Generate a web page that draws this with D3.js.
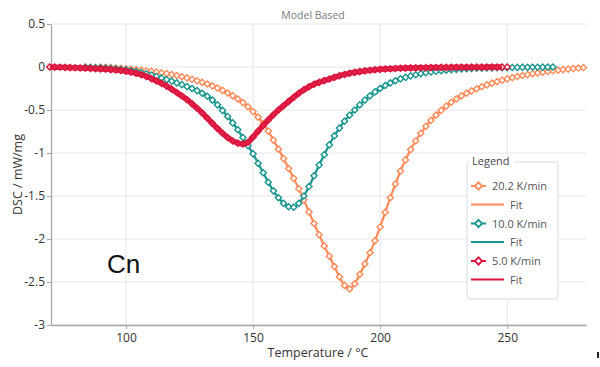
<!DOCTYPE html>
<html>
<head>
<meta charset="utf-8">
<script src="https://cdn.jsdelivr.net/npm/d3@7"></script>
<style>
body { margin: 0; background: #fff; }
text { font-family: "Open Sans", "Noto Sans", sans-serif; }
</style>
</head>
<body>
<svg id="chart" width="600" height="367"></svg>
<script>
var tempsFast = d3.range(90, 281, 2);   // 20.2 K/min
var dscFast = [
    0, -0.004, -0.008, -0.012, -0.016, -0.02, -0.025, -0.03, -0.036, -0.043,
    -0.05, -0.058, -0.067, -0.077, -0.088, -0.1, -0.113, -0.127, -0.143, -0.16,
    -0.178, -0.198, -0.22, -0.245, -0.272, -0.302, -0.335, -0.372, -0.414, -0.462,
    -0.518, -0.583, -0.658, -0.745, -0.85, -0.955, -1.065, -1.18, -1.295, -1.415,
    -1.545, -1.685, -1.82, -1.95, -2.08, -2.2, -2.32, -2.44, -2.54, -2.58,
    -2.52, -2.41, -2.29, -2.16, -2.02, -1.86, -1.69, -1.52, -1.36, -1.21,
    -1.08, -0.96, -0.86, -0.77, -0.69, -0.62, -0.56, -0.505, -0.455, -0.41,
    -0.37, -0.335, -0.305, -0.278, -0.253, -0.23, -0.208, -0.188, -0.17, -0.153,
    -0.138, -0.124, -0.111, -0.099, -0.088, -0.078, -0.069, -0.06, -0.052, -0.044,
    -0.037, -0.03, -0.024, -0.018, -0.012, -0.006
];

var tempsMid = d3.range(84, 269, 2);    // 10.0 K/min
var dscMid = [
    0, -0.003, -0.006, -0.009, -0.012, -0.016, -0.02, -0.026, -0.033, -0.042,
    -0.052, -0.064, -0.078, -0.094, -0.11, -0.128, -0.146, -0.165, -0.185, -0.205,
    -0.228, -0.25, -0.275, -0.305, -0.34, -0.385, -0.44, -0.505, -0.575, -0.65,
    -0.73, -0.82, -0.915, -1.01, -1.12, -1.23, -1.34, -1.44, -1.52, -1.585,
    -1.625, -1.63, -1.585, -1.5, -1.39, -1.265, -1.14, -1.02, -0.905, -0.8,
    -0.71, -0.63, -0.56, -0.5, -0.44, -0.385, -0.335, -0.29, -0.25, -0.215,
    -0.185, -0.16, -0.138, -0.12, -0.104, -0.09, -0.078, -0.067, -0.058, -0.05,
    -0.043, -0.037, -0.032, -0.027, -0.023, -0.02, -0.017, -0.015, -0.013, -0.011,
    -0.01, -0.009, -0.008, -0.007, -0.006, -0.005, -0.004, -0.004, -0.003, -0.003,
    -0.002, -0.001, 0
];

var tempsSlow = d3.range(70, 251, 2);   // 5.0 K/min
var dscSlow = [
    0, -0.002, -0.003, -0.005, -0.007, -0.009, -0.011, -0.013, -0.016, -0.019,
    -0.022, -0.026, -0.03, -0.035, -0.041, -0.049, -0.06, -0.074, -0.09, -0.11,
    -0.135, -0.162, -0.19, -0.222, -0.258, -0.297, -0.337, -0.38, -0.428, -0.48,
    -0.535, -0.595, -0.655, -0.715, -0.77, -0.82, -0.86, -0.885, -0.895, -0.875,
    -0.815, -0.745, -0.68, -0.615, -0.555, -0.5, -0.45, -0.4, -0.352, -0.305,
    -0.265, -0.23, -0.2, -0.178, -0.158, -0.14, -0.12, -0.102, -0.087, -0.073,
    -0.062, -0.053, -0.045, -0.038, -0.032, -0.027, -0.023, -0.02, -0.017, -0.015,
    -0.013, -0.011, -0.01, -0.009, -0.008, -0.007, -0.006, -0.005, -0.005, -0.004,
    -0.004, -0.003, -0.003, -0.002, -0.002, -0.002, -0.001, -0.001, -0.001, -0.001,
    0
];

var seriesNames = ["20.2 K/min", "10.0 K/min", "5.0 K/min"];
var seriesColors = ["#ff8a57", "#17958e", "#dc143c"];
var xTicks = [100, 150, 200, 250];
var yTicks = [-3, -2.5, -2, -1.5, -1, -0.5, 0, 0.5];

var svg = d3.select("#chart");
var plot = {left: 51, right: 586, top: 24, bottom: 325};

var x = d3.scaleLinear().domain([70.5, 281]).range([plot.left, plot.right]);
var y = d3.scaleLinear().domain([-3, 0.5]).range([plot.bottom, plot.top]);

function zipSeries(ts, vs) {
    return ts.map(function(t, i) { return {t: t, v: vs[i]}; });
}

var series = [
    {name: seriesNames[0], color: seriesColors[0], pts: zipSeries(tempsFast, dscFast)},
    {name: seriesNames[1], color: seriesColors[1], pts: zipSeries(tempsMid, dscMid)},
    {name: seriesNames[2], color: seriesColors[2], pts: zipSeries(tempsSlow, dscSlow)}
];

svg.append("rect").attr("width", 600).attr("height", 367).attr("fill", "#fff");

// grid
svg.append("g")
.selectAll("line")
.data(xTicks)
.join("line")
.attr("x1", function(d) { return x(d); })
.attr("x2", function(d) { return x(d); })
.attr("y1", plot.top)
.attr("y2", plot.bottom)
.attr("stroke", "#e6e6e6");

svg.append("g")
.selectAll("line")
.data(yTicks)
.join("line")
.attr("x1", plot.left)
.attr("x2", plot.right)
.attr("y1", function(d) { return y(d); })
.attr("y2", function(d) { return y(d); })
.attr("stroke", "#e6e6e6");

// axes
var xAxis = svg.append("g")
.attr("transform", "translate(0," + plot.bottom + ")")
.call(d3.axisBottom(x).tickValues(xTicks).tickSize(4).tickSizeOuter(0));

var yAxis = svg.append("g")
.attr("transform", "translate(" + plot.left + ",0)")
.call(d3.axisLeft(y).tickValues(yTicks).tickSize(4).tickSizeOuter(0)
      .tickFormat(function(d) { return String(d); }));

[xAxis, yAxis].forEach(function(a) {
    a.select(".domain").attr("stroke", "#a6a6a6").attr("stroke-width", 1.3);
    a.selectAll(".tick line").attr("stroke", "#a6a6a6");
    a.selectAll(".tick text")
    .attr("fill", "#333")
    .style("font-size", "12px")
    .style("font-family", "'Open Sans', sans-serif");
});
xAxis.selectAll(".tick text").attr("dy", "1em").attr("y", 5);
yAxis.selectAll(".tick text").attr("x", -6);

// titles
svg.append("text")
.attr("x", 313).attr("y", 19)
.attr("text-anchor", "middle")
.attr("fill", "#7a7a7a")
.style("font-size", "10.5px")
.text("Model Based");

svg.append("text")
.attr("x", 318).attr("y", 357)
.attr("text-anchor", "middle")
.attr("fill", "#333")
.style("font-size", "12.5px")
.text("Temperature / °C");

svg.append("text")
.attr("transform", "translate(22," + ((plot.top + plot.bottom) / 2) + ") rotate(-90)")
.attr("text-anchor", "middle")
.attr("fill", "#333")
.style("font-size", "12.5px")
.text("DSC / mW/mg");

svg.append("text")
.attr("x", 107).attr("y", 273)
.attr("fill", "#111")
.style("font-family", "'Liberation Sans', Arial, sans-serif")
.style("font-size", "26px")
.text("Cn");

// curves: fit line under the markers, slow series last
var fitLine = d3.line()
.x(function(d) { return x(d.t); })
.y(function(d) { return y(d.v); })
.curve(d3.curveMonotoneX);

var diamond = d3.symbol().type(d3.symbolSquare).size(19);

series.forEach(function(s, i) {
    var g = svg.append("g");
    g.append("path")
    .datum(s.pts)
    .attr("d", fitLine)
    .attr("fill", "none")
    .attr("stroke", s.color)
    .attr("stroke-width", 2.2);

    g.selectAll(".dot")
    .data(s.pts)
    .join("path")
    .attr("class", "dot")
    .attr("d", diamond)
    .attr("transform", function(d) { return "translate(" + x(d.t) + "," + y(d.v) + ") rotate(45)"; })
    .attr("fill", "#fff")
    .attr("stroke", s.color)
    .attr("stroke-width", 1.4);

    if (i === 2) {
        // dense 5 K/min data reads as a solid band
        g.append("path")
        .datum(s.pts.slice(0, s.pts.length - 1))
        .attr("d", fitLine)
        .attr("fill", "none")
        .attr("stroke", s.color)
        .attr("stroke-opacity", 0.92)
        .attr("stroke-width", 5.5);
    }
});

// legend
var legend = svg.append("g");
legend.append("rect")
.attr("x", 467).attr("y", 162)
.attr("width", 91).attr("height", 137)
.attr("rx", 3)
.attr("fill", "#fff")
.attr("stroke", "#d6dbe1");

legend.append("rect")
.attr("x", 470).attr("y", 157)
.attr("width", 44).attr("height", 10)
.attr("fill", "#fff");

legend.append("text")
.attr("x", 472).attr("y", 165)
.attr("fill", "#444")
.style("font-size", "11px")
.text("Legend");

series.forEach(function(s, i) {
    var cy = 186 + i * 37.5;
    var item = legend.append("g");
    item.append("line")
    .attr("x1", 471).attr("x2", 486)
    .attr("y1", cy).attr("y2", cy)
    .attr("stroke", s.color).attr("stroke-width", 2);
    item.append("path")
    .attr("d", d3.symbol().type(d3.symbolSquare).size(26))
    .attr("transform", "translate(478.5," + cy + ") rotate(45)")
    .attr("fill", "#fff")
    .attr("stroke", s.color)
    .attr("stroke-width", 1.8);
    item.append("text")
    .attr("x", 492).attr("y", cy + 4)
    .attr("fill", "#555")
    .style("font-size", "11px")
    .text(s.name);

    item.append("line")
    .attr("x1", 471).attr("x2", 504)
    .attr("y1", cy + 18.5).attr("y2", cy + 18.5)
    .attr("stroke", s.color).attr("stroke-width", 2);
    item.append("text")
    .attr("x", 510).attr("y", cy + 22.5)
    .attr("fill", "#555")
    .style("font-size", "11px")
    .text("Fit");
});

// small mark at the lower right edge of the screenshot
svg.append("rect")
.attr("x", 597).attr("y", 352)
.attr("width", 2).attr("height", 6)
.attr("fill", "#222");
</script>
</body>
</html>
